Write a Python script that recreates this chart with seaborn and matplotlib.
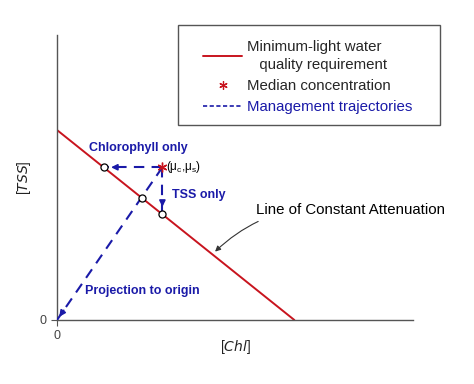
import pandas as pd
import matplotlib
matplotlib.use("Agg")
import matplotlib.pyplot as plt
import seaborn as sns
from matplotlib.lines import Line2D
from matplotlib.patches import Rectangle

# minimum-light water quality requirement (line of constant attenuation)
req_chl = [0.0, 1.0]
req_tss = [1.0, 0.0]

# median concentration
median_chl = 0.444
median_tss = 0.804

# end points of the management trajectories (on the requirement line)
chl_only = (0.196, 0.804)
tss_only = (0.444, 0.556)
projected = (0.356, 0.644)
origin = (0.0, 0.0)

axis_max = 1.5

sns.set_theme(style="white")
plt.rcParams["font.family"] = ["Liberation Sans", "DejaVu Sans"]

W, H = 474, 384
fig = plt.figure(figsize=(4.74, 3.84), dpi=100)
ax = fig.add_axes([0.1203, 0.1667, 0.751, 0.742])

red = "#c8141e"
blue = "#1a1aa8"
dash = (0, (5, 3.5))

req = pd.DataFrame({"chl": req_chl, "tss": req_tss})
sns.lineplot(data=req, x="chl", y="tss", color=red, lw=1.4, ax=ax, zorder=2)

# management trajectories
for end in [chl_only, tss_only, origin]:
    ax.plot([median_chl, end[0]], [median_tss, end[1]], color=blue,
            lw=1.5, linestyle=dash, zorder=3)

# arrow heads
ax.annotate("", xy=(chl_only[0] + 0.02, chl_only[1]), xytext=(chl_only[0] + 0.07, chl_only[1]),
            arrowprops=dict(arrowstyle="-|>", color=blue, lw=1.2, mutation_scale=9), zorder=4)
ax.annotate("", xy=(tss_only[0], tss_only[1] + 0.025), xytext=(tss_only[0], tss_only[1] + 0.08),
            arrowprops=dict(arrowstyle="-|>", color=blue, lw=1.2, mutation_scale=9), zorder=4)
ax.annotate("", xy=(0.003, 0.005), xytext=(0.035, 0.063),
            arrowprops=dict(arrowstyle="-|>", color=blue, lw=1.2, mutation_scale=9), zorder=4)

pts = pd.DataFrame({"chl": [chl_only[0], tss_only[0], projected[0]],
                    "tss": [chl_only[1], tss_only[1], projected[1]]})
sns.scatterplot(data=pts, x="chl", y="tss", marker="o", s=26, facecolor="white",
                edgecolor="black", linewidth=0.9, ax=ax, zorder=5)

ax.plot([median_chl], [median_tss], marker=(6, 2, 0), color=red, ms=7, mew=1.0,
        linestyle="none", zorder=6)

# labels
ax.text(0.135, 0.905, "Chlorophyll only", color=blue, fontsize=9, fontweight="bold", va="center")
ax.text(0.485, 0.658, "TSS only", color=blue, fontsize=9, fontweight="bold", va="center")
ax.text(0.118, 0.153, "Projection to origin", color=blue, fontsize=9, fontweight="bold", va="center")
ax.text(0.46, 0.804, r"($\mathregular{\mu_{c}}$,$\mathregular{\mu_{s}}$)", color="black",
        fontsize=8.5, va="center")
ax.annotate("Line of Constant Attenuation", xy=(0.666, 0.36), xytext=(0.84, 0.579),
            fontsize=10.8, color="black", va="center",
            arrowprops=dict(arrowstyle="-|>", color="#333333", lw=0.8, mutation_scale=8,
                            connectionstyle="arc3,rad=0.25", shrinkA=2, shrinkB=0))

ax.set_xlim(0, axis_max)
ax.set_ylim(0, axis_max)
ax.set_xticks([0])
ax.set_yticks([0])
ax.tick_params(axis="both", length=4, width=0.8, color="#555555", labelsize=9,
               labelcolor="#444444", left=True, bottom=True)
ax.set_xlabel("[$\\it{Chl}$]", fontsize=10, color="#222222", labelpad=-3)
ax.set_ylabel("[$\\it{TSS}$]", fontsize=10, color="#222222", labelpad=5)
for side in ["top", "right"]:
    ax.spines[side].set_visible(False)
for side in ["left", "bottom"]:
    ax.spines[side].set_color("#555555")
    ax.spines[side].set_linewidth(1.0)

# legend frame drawn separately to match the box size
fig.patches.append(Rectangle((178 / W, 1 - 125 / H), 262 / W, 100 / H, transform=fig.transFigure,
                             fill=False, edgecolor="#555555", linewidth=1.0))

handles = [
    Line2D([], [], color=red, lw=1.4),
    Line2D([], [], color=red, marker=(6, 2, 0), ms=6, mew=0.9, linestyle="none"),
    Line2D([], [], color=blue, lw=1.2, linestyle=(0, (2.5, 1.5))),
]
labels = ["Minimum-light water\n   quality requirement", "Median concentration",
          "Management trajectories"]
leg = fig.legend(handles, labels, loc="upper left", bbox_to_anchor=(203 / W, 1 - 39.5 / H),
                 bbox_transform=fig.transFigure, fontsize=10.8, frameon=False,
                 handlelength=2.6, handletextpad=0.35, borderpad=0, labelspacing=0.45,
                 borderaxespad=0)
leg.get_texts()[0].set_linespacing(1.45)
leg.get_texts()[2].set_color(blue)

fig.savefig("out.png", dpi=100)
